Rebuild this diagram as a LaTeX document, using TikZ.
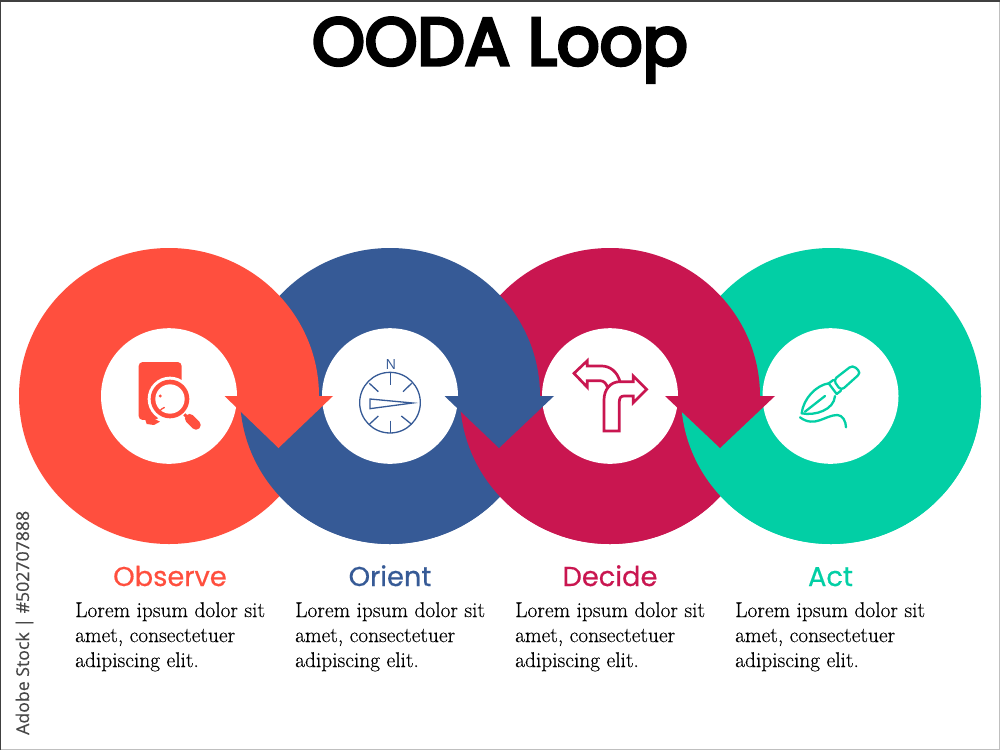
\documentclass[tikz,border=0pt]{standalone}
\usepackage{fontspec}
\setmainfont[FakeBold=0.25]{Latin Modern Roman}
\newfontfamily\titlefont[FakeBold=5]{Poppins}
\newfontfamily\headfont[FakeBold=0.5]{Poppins}
\newfontfamily\stockfont[FakeBold=0.3]{Open Sans}
\newfontfamily\markfont{Open Sans}
\definecolor{cobs}{HTML}{FF4F3E}
\definecolor{cori}{HTML}{365A96}
\definecolor{cdec}{HTML}{C91650}
\definecolor{cact}{HTML}{02CFA5}
\tikzset{
  x=1pt,y=-1pt,
  headlabel/.style={font=\headfont\fontsize{27.3}{27.3}\selectfont,anchor=base},
  bodytext/.style={font=\fontsize{21.4}{25}\selectfont,anchor=north west,align=left,inner sep=0pt,text=black},
  hole/.style={fill=white},
  disc/.style={x radius=150,y radius=148},
  holeshape/.style={x radius=68,y radius=67.8},
}
\begin{document}
\begin{tikzpicture}
\useasboundingbox (0,0) rectangle (1000,750);
\fill[white] (0,0) rectangle (1000,750);
\draw[black!25,line width=1] (0,749.5) -- (999.5,749.5) -- (999.5,0);
\draw[black!75,line width=2.2] (0,750) -- (0,1) -- (1000,1);
% full discs: each upper half lies over its right neighbour
\fill[cact] (831,396) ellipse[disc];
\fill[cdec] (610,396) ellipse[disc];
\fill[cori] (390,396) ellipse[disc];
\fill[cobs] (169,396) ellipse[disc];
% lower halves: each lies over its left neighbour
\begin{scope}
\clip (0,396) rectangle (1000,750);
\fill[cori] (390,396) ellipse[disc];
\fill[cdec] (610,396) ellipse[disc];
\fill[cact] (831,396) ellipse[disc];
\end{scope}
% holes
\fill[hole] (169,396) ellipse[holeshape];
\fill[hole] (390,396) ellipse[holeshape];
\fill[hole] (610,396) ellipse[holeshape];
\fill[hole] (830.5,396) ellipse[holeshape];
% arrowheads
\fill[cobs] (224.5,396) -- (333,396) -- (278.5,448) -- cycle;
\fill[cori] (444.5,396) -- (554,396) -- (499,448) -- cycle;
\fill[cdec] (665,396) -- (775,396) -- (720,448) -- cycle;
% Observe icon
\begin{scope}[shift={(90,320)},x=0.3333pt,y=-0.3333pt]
\fill[cobs,rounded corners=4] (146,126) -- (275,126) -- (275,230) -- (200,300) -- (146,300) -- cycle;
\fill[cobs] (160,280) -- (210,305) -- (192,315) -- (170,312) -- cycle;
\fill[white] (240,237) circle[radius=67];
\fill[cobs] (240,237) circle[radius=58];
\fill[white] (240,237) circle[radius=44];
\draw[cobs,line width=1.3] (224,262) arc[start angle=250,end angle=215,radius=32];
\fill[cobs] (211,228) circle[radius=5];
\draw[cobs,line width=3] (283,283) -- (300,300);
\draw[cobs,line width=9.5,line cap=round] (299,296) -- (318,315);
\end{scope}
% Orient icon
\begin{scope}[shift={(310,320)},x=0.3333pt,y=-0.3333pt,cori,line width=1.3]
\draw (240,248) circle[radius=91];
\draw (241,160) -- (241,195);
\draw (241,302) -- (241,338);
\draw (178,190) -- (205,215);
\draw (305,190) -- (279,215);
\draw (178,313) -- (205,288);
\draw (305,313) -- (274,288);
\draw (180,237) -- (308,249) -- (180,266) -- cycle;
\node[text=cori,font=\markfont\fontsize{14}{14}\selectfont,inner sep=0pt] (northmark) at (243,132) {N};
\end{scope}
% Decide icon
\begin{scope}[shift={(530,320)},x=0.3333pt,y=-0.3333pt,cdec,line width=2.7,line join=miter]
\draw (270,185) .. controls (262,155) and (240,138) .. (215,138) -- (172,138) -- (172,122) -- (132,160) -- (172,202) -- (172,182) -- (210,182) .. controls (222,182) and (230,192) .. (232,202);
\draw (222,333) -- (268,333) -- (268,245) .. controls (268,235) and (272,228) .. (282,228) -- (310,228) -- (310,248) -- (350,208) -- (310,168) -- (310,185) -- (270,185) .. controls (240,185) and (222,210) .. (222,240) -- cycle;
\end{scope}
% Act icon
\begin{scope}[shift={(760,330)},x=0.3333pt,y=-0.3333pt,cact,line width=2.3,line cap=round,line join=round]
\draw[rounded corners=4] (220,150) -- (278,105) -- (303,128) -- (243,182) -- cycle;
\draw (206,160) -- (230,192);
\draw (206,160) -- (220,150);
\draw (230,192) -- (243,182);
\draw (206,160) .. controls (170,165) and (130,205) .. (125,250) .. controls (165,258) and (222,240) .. (225,198);
\draw (135,245) -- (195,198);
\draw (120,262) .. controls (165,295) and (195,255) .. (232,255) .. controls (248,255) and (258,275) .. (258,292);
\end{scope}
% Title
\node[font=\titlefont\fontsize{67}{67}\selectfont,anchor=base,inner sep=0pt,text=black] (title) at (500,65) {OODA Loop};
% Labels
\node[headlabel,text=cobs] (observe) at (170,586) {Observe};
\node[headlabel,text=cori] (orient) at (390,586) {Orient};
\node[headlabel,text=cdec] (decide) at (610,586) {Decide};
\node[headlabel,text=cact] (act) at (830.5,586) {Act};
\node[bodytext] (tobs) at (75,602) {Lorem ipsum dolor sit\\amet, consectetuer\\adipiscing elit.};
\node[bodytext] (tori) at (295,602) {Lorem ipsum dolor sit\\amet, consectetuer\\adipiscing elit.};
\node[bodytext] (tdec) at (515,602) {Lorem ipsum dolor sit\\amet, consectetuer\\adipiscing elit.};
\node[bodytext] (tact) at (735,602) {Lorem ipsum dolor sit\\amet, consectetuer\\adipiscing elit.};
\node[rotate=90,anchor=base west,inner sep=0pt,text=black!72,font=\stockfont\fontsize{17.7}{17.7}\selectfont] (stock) at (29,735) {Adobe Stock | \#502707888};
\end{tikzpicture}
\end{document}
